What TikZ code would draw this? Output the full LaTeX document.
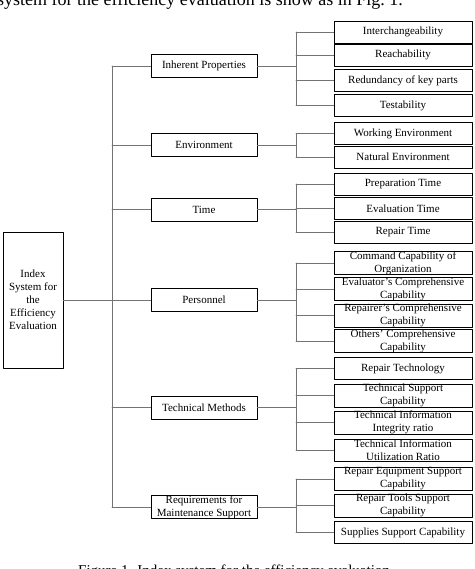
\documentclass[tikz,border=0pt]{standalone}
\usepackage{fontspec}
\setmainfont{Liberation Serif}
\usepackage{tikz}

\begin{document}
\begin{tikzpicture}[
   x=1pt,
   y=-1pt,
   line cap=round,
   line join=round,
   every node/.style={font=\fontsize{11}{13}\selectfont,align=center,inner sep=0pt},
   rootbox/.style={draw=black,line width=0.8pt,minimum width=60,minimum height=136},
   catbox/.style={draw=black,line width=0.8pt,minimum width=106,minimum height=23},
   leafbox/.style={draw=black,line width=0.8pt,minimum width=138,minimum height=22},
   link/.style={draw=black!55,line width=0.7pt}
 ]
   % Page frame: the cut lines of the paper above and below are clipped.
   \clip (0,0) rectangle (474,569);
   \node[anchor=base west,font=\fontsize{18}{20}\selectfont] (lead) at (-3,6)
     {system for the efficiency evaluation is show as in Fig.~1.};
   \node[anchor=base west,font=\fontsize{15}{17}\selectfont] (caption) at (78,575)
     {Figure 1. Index system for the efficiency evaluation};

   % Root of the index system.
   \node[rootbox] (root) at (33,300) {Index\\System for\\the\\Efficiency\\Evaluation};

   % First-level indices.
   \node[catbox] (inh) at (204,66) {Inherent Properties};
   \node[catbox] (env) at (204,145) {Environment};
   \node[catbox] (tim) at (204,209.5) {Time};
   \node[catbox] (per) at (204,300) {Personnel};
   \node[catbox] (tec) at (204,407.5) {Technical Methods};
   \node[catbox] (req) at (204,507) {Requirements for\\Maintenance Support};

   % Second-level indices.
   \node[leafbox] (inh1) at (403,32) {Interchangeability};
   \node[leafbox] (inh2) at (403,55) {Reachability};
   \node[leafbox] (inh3) at (403,80.5) {Redundancy of key parts};
   \node[leafbox] (inh4) at (403,105.5) {Testability};
   \node[leafbox] (env1) at (403,133.5) {Working Environment};
   \node[leafbox] (env2) at (403,157) {Natural Environment};
   \node[leafbox] (tim1) at (403,184) {Preparation Time};
   \node[leafbox] (tim2) at (403,208.5) {Evaluation Time};
   \node[leafbox] (tim3) at (403,232.5) {Repair Time};
   \node[leafbox] (per1) at (403,263) {Command Capability of\\Organization};
   \node[leafbox] (per2) at (403,289) {Evaluator’s Comprehensive\\Capability};
   \node[leafbox] (per3) at (403,315.5) {Repairer’s Comprehensive\\Capability};
   \node[leafbox] (per4) at (403,341) {Others’ Comprehensive\\Capability};
   \node[leafbox] (tec1) at (403,368.5) {Repair Technology};
   \node[leafbox] (tec2) at (403,395.5) {Technical Support\\Capability};
   \node[leafbox] (tec3) at (403,422.5) {Technical Information\\Integrity ratio};
   \node[leafbox] (tec4) at (403,450.5) {Technical Information\\Utilization Ratio};
   \node[leafbox] (req1) at (403,479) {Repair Equipment Support\\Capability};
   \node[leafbox] (req2) at (403,505.5) {Repair Tools Support\\Capability};
   \node[leafbox] (req3) at (403,532.5) {Supplies Support Capability};

   % Trunk from the root to the first level.
   \coordinate (trunk) at (112,300);
   \coordinate (brk) at (296,300);
   \draw[link] (root.east) -- (trunk);
   \draw[link] (trunk |- inh.west) -- (trunk |- req.west);
   \draw[link] (trunk |- inh.west) -- (inh.west)
     (trunk |- env.west) -- (env.west)
     (trunk |- tim.west) -- (tim.west)
     (trunk |- per.west) -- (per.west)
     (trunk |- tec.west) -- (tec.west)
     (trunk |- req.west) -- (req.west);

   % Brackets from the first level to the second.
   \draw[link] (inh.east) -- (inh.east -| brk)
     (inh1.west -| brk) -- (inh4.west -| brk)
     (inh1.west -| brk) -- (inh1.west)
     (inh2.west -| brk) -- (inh2.west)
     (inh3.west -| brk) -- (inh3.west)
     (inh4.west -| brk) -- (inh4.west);
   \draw[link] (env.east) -- (env.east -| brk)
     (env1.west -| brk) -- (env2.west -| brk)
     (env1.west -| brk) -- (env1.west)
     (env2.west -| brk) -- (env2.west);
   \draw[link] (tim.east) -- (tim.east -| brk)
     (tim1.west -| brk) -- (tim3.west -| brk)
     (tim1.west -| brk) -- (tim1.west)
     (tim2.west -| brk) -- (tim2.west)
     (tim3.west -| brk) -- (tim3.west);
   \draw[link] (per.east) -- (per.east -| brk)
     (per1.west -| brk) -- (per4.west -| brk)
     (per1.west -| brk) -- (per1.west)
     (per2.west -| brk) -- (per2.west)
     (per3.west -| brk) -- (per3.west)
     (per4.west -| brk) -- (per4.west);
   \draw[link] (tec.east) -- (tec.east -| brk)
     (tec1.west -| brk) -- (tec4.west -| brk)
     (tec1.west -| brk) -- (tec1.west)
     (tec2.west -| brk) -- (tec2.west)
     (tec3.west -| brk) -- (tec3.west)
     (tec4.west -| brk) -- (tec4.west);
   \draw[link] (req.east) -- (req.east -| brk)
     (req1.west -| brk) -- (req3.west -| brk)
     (req1.west -| brk) -- (req1.west)
     (req2.west -| brk) -- (req2.west)
     (req3.west -| brk) -- (req3.west);
 \end{tikzpicture}
\end{document}
